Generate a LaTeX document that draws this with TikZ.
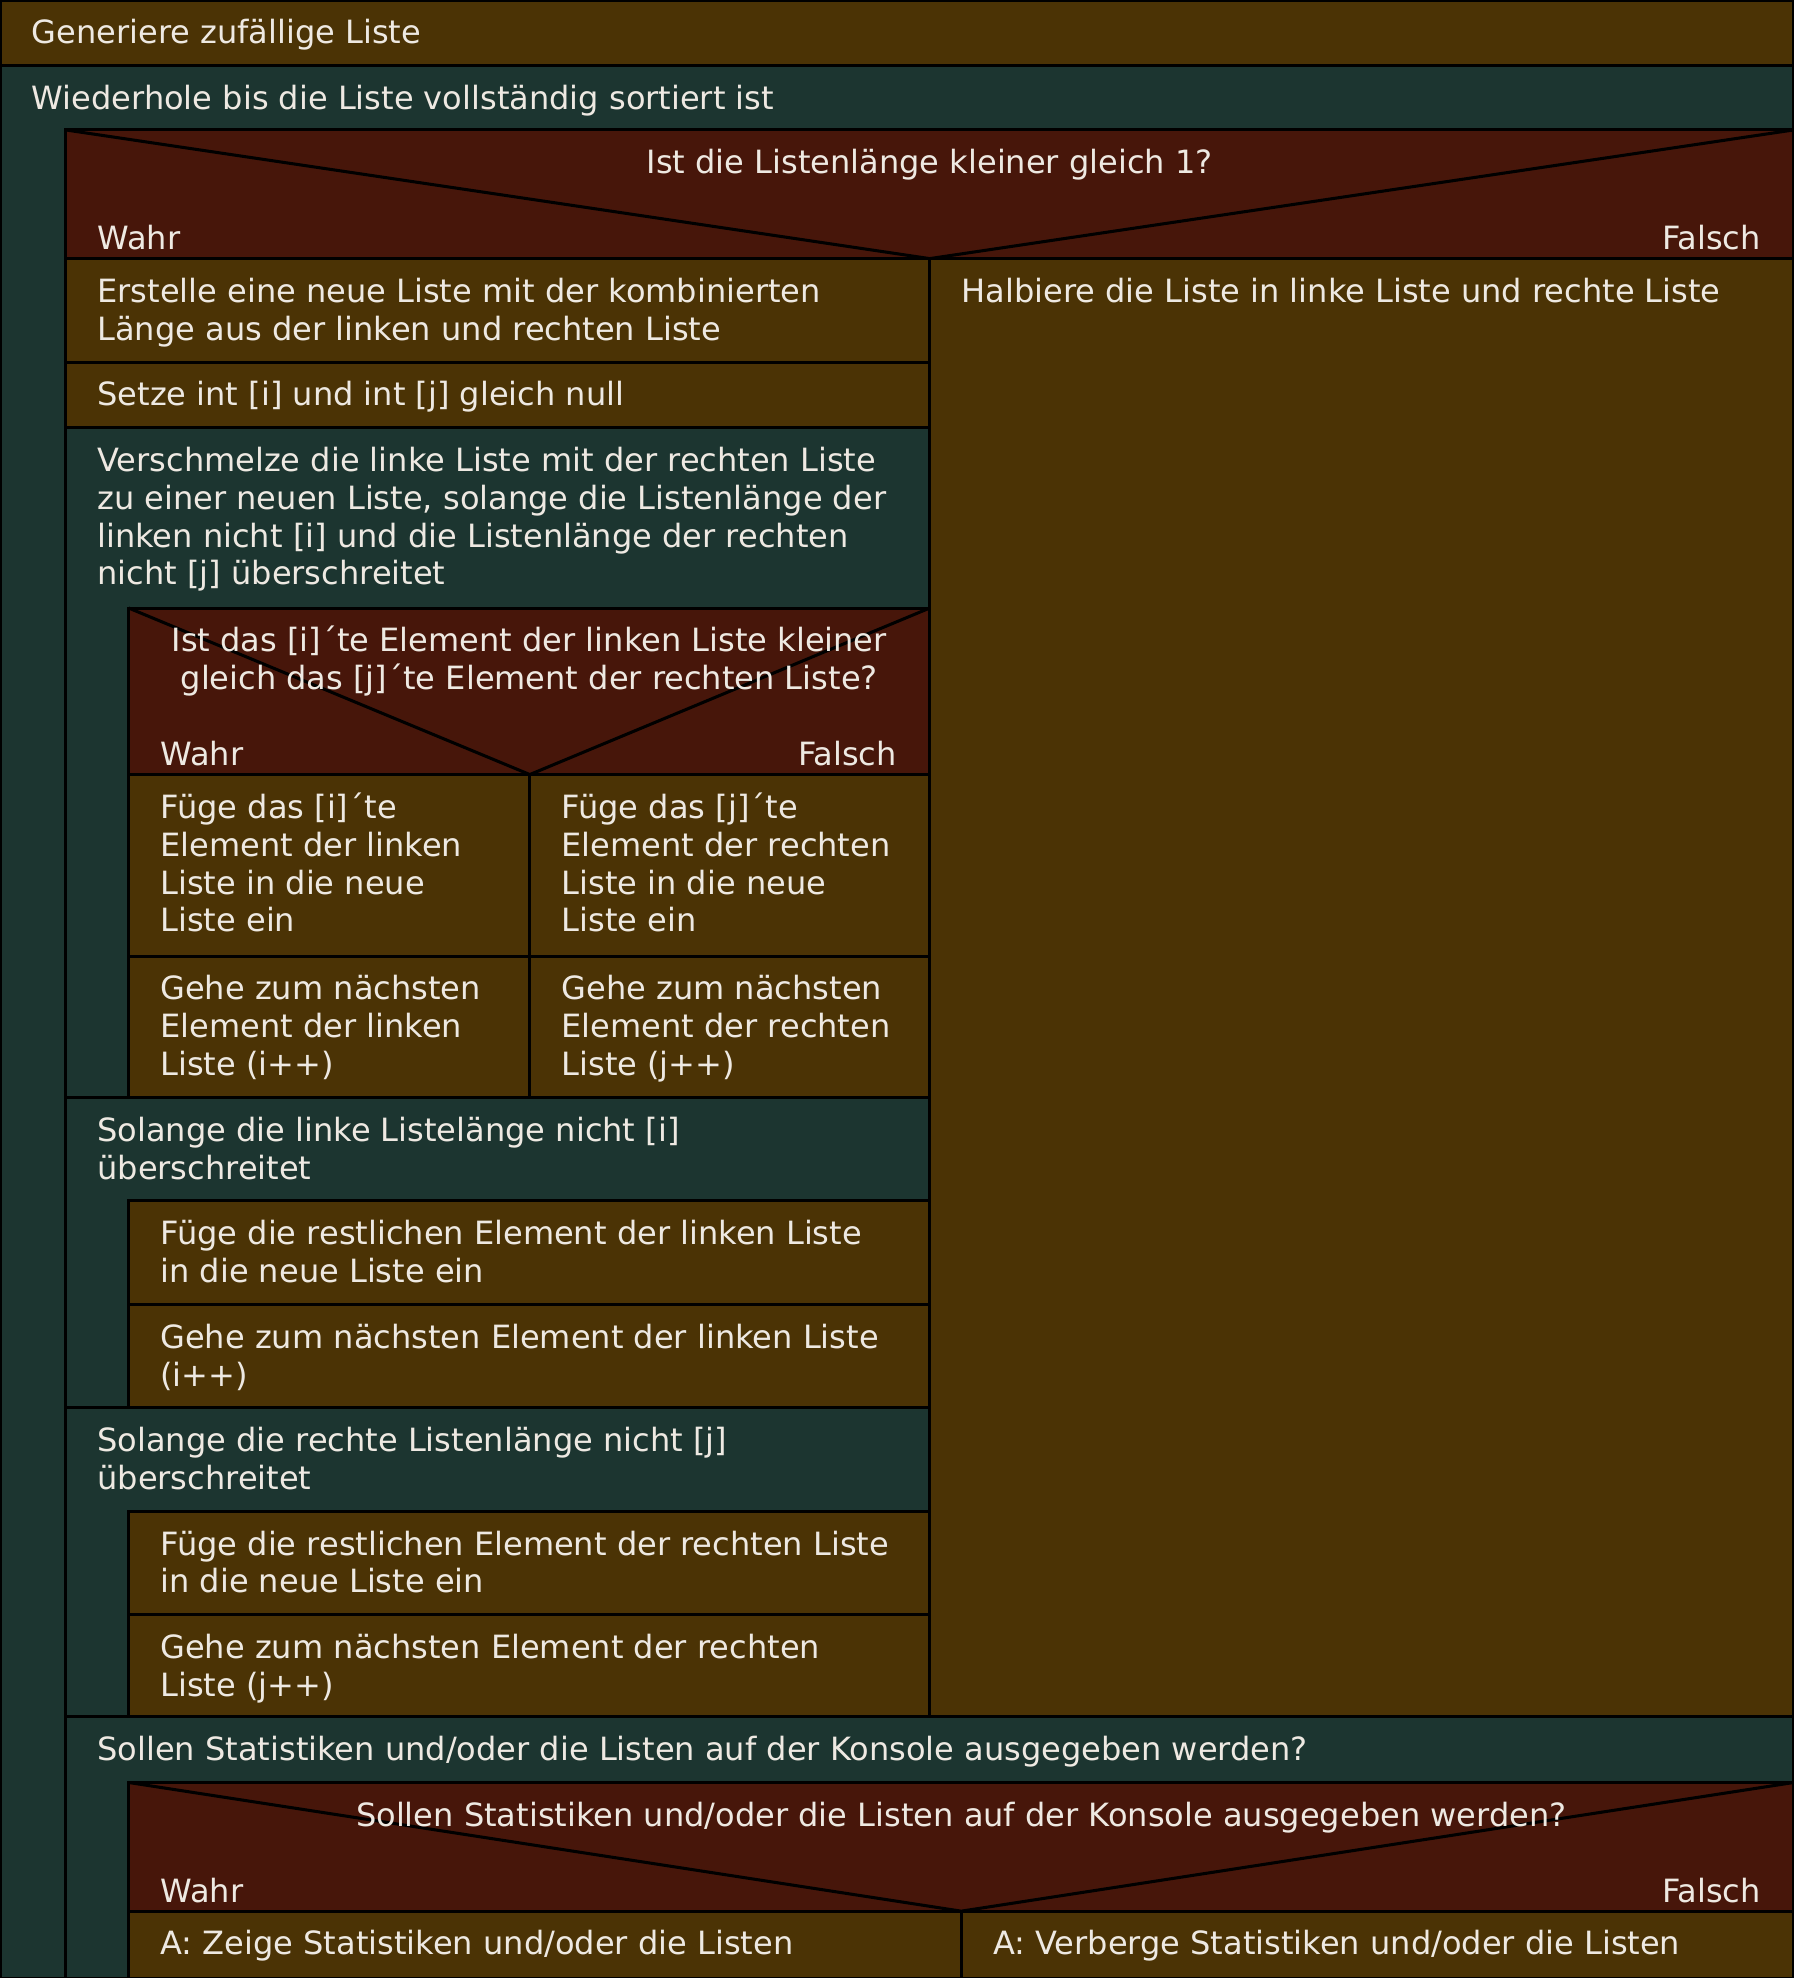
\documentclass[tikz,border=0pt]{standalone}
\usepackage{fontspec}
\setmainfont{DejaVu Sans}
\definecolor{brn}{HTML}{4B3305}
\definecolor{tea}{HTML}{1C3530}
\definecolor{dred}{HTML}{47160A}
\definecolor{txt}{HTML}{EEE9E2}
\begin{document}
\begin{tikzpicture}[x=1pt,y=-1pt,
  blk/.style={fill=brn,draw=black,line width=2.4pt},
  lp/.style={fill=tea,draw=black,line width=2.4pt},
  dec/.style={fill=dred,draw=black,line width=2.4pt},
  dline/.style={draw=black,line width=2.4pt},
  lbl/.style={text=txt,font=\fontsize{25.4}{30}\selectfont,inner sep=0pt,align=left,anchor=north west},
  ctr/.style={lbl,align=center,anchor=north},
  wl/.style={text=txt,font=\fontsize{25.4}{30}\selectfont,inner sep=0pt,anchor=base west},
  fl/.style={text=txt,font=\fontsize{25.4}{30}\selectfont,inner sep=0pt,anchor=base east}]
\useasboundingbox (0,0) rectangle (1422,1568);
% top block
\path[blk] (0,0) rectangle (1422,52);
\node[lbl] (t1) at (25,13.5) {\strut Generiere zufällige Liste};
% main loop
\path[lp] (0,52) rectangle (1422,1568);
\node[lbl] (t2) at (25,65.5) {\strut Wiederhole bis die Liste vollständig sortiert ist};
% decision 1
\path[dec] (52,103) rectangle (1422,205);
\draw[dline] (52,103) -- (737,205) -- (1422,103);
\node[ctr] (d1) at (737,116.5) {\strut Ist die Listenlänge kleiner gleich 1?};
\node[wl] (d1w) at (77,198) {Wahr};
\node[fl] (d1f) at (1396,198) {Falsch};
% left branch
\path[blk] (52,205) rectangle (737,287);
\node[lbl] (b1) at (77,218.5) {\strut Erstelle eine neue Liste mit der kombinierten\\Länge aus der linken und rechten Liste};
\path[blk] (52,287) rectangle (737,339);
\node[lbl] (b2) at (77,300.5) {\strut Setze int [i] und int [j] gleich null};
\path[lp] (52,339) rectangle (737,870);
\node[lbl] (l2) at (77,352.5) {\strut Verschmelze die linke Liste mit der rechten Liste\\zu einer neuen Liste, solange die Listenlänge der\\linken nicht [i] und die Listenlänge der rechten\\nicht [j] überschreitet};
\path[dec] (102,482) rectangle (737,614);
\draw[dline] (102,482) -- (420,614) -- (737,482);
\node[ctr] (d2) at (419.5,495.5) {\strut Ist das [i]´te Element der linken Liste kleiner\\gleich das [j]´te Element der rechten Liste?};
\node[wl] (d2w) at (127,607) {Wahr};
\node[fl] (d2f) at (711,607) {Falsch};
\path[blk] (102,614) rectangle (420,758);
\node[lbl] (b3) at (127,627.5) {\strut Füge das [i]´te\\Element der linken\\Liste in die neue\\Liste ein};
\path[blk] (420,614) rectangle (737,758);
\node[lbl] (b4) at (445,627.5) {\strut Füge das [j]´te\\Element der rechten\\Liste in die neue\\Liste ein};
\path[blk] (102,758) rectangle (420,870);
\node[lbl] (b5) at (127,771.5) {\strut Gehe zum nächsten\\Element der linken\\Liste (i++)};
\path[blk] (420,758) rectangle (737,870);
\node[lbl] (b6) at (445,771.5) {\strut Gehe zum nächsten\\Element der rechten\\Liste (j++)};
\path[lp] (52,870) rectangle (737,1116);
\node[lbl] (l3) at (77,883.5) {\strut Solange die linke Listelänge nicht [i]\\überschreitet};
\path[blk] (102,952) rectangle (737,1034);
\node[lbl] (b7) at (127,965.5) {\strut Füge die restlichen Element der linken Liste\\in die neue Liste ein};
\path[blk] (102,1034) rectangle (737,1116);
\node[lbl] (b8) at (127,1047.5) {\strut Gehe zum nächsten Element der linken Liste\\(i++)};
\path[lp] (52,1116) rectangle (737,1361);
\node[lbl] (l4) at (77,1129.5) {\strut Solange die rechte Listenlänge nicht [j]\\überschreitet};
\path[blk] (102,1198) rectangle (737,1280);
\node[lbl] (b9) at (127,1211.5) {\strut Füge die restlichen Element der rechten Liste\\in die neue Liste ein};
\path[blk] (102,1280) rectangle (737,1361);
\node[lbl] (b10) at (127,1293.5) {\strut Gehe zum nächsten Element der rechten\\Liste (j++)};
% right branch
\path[blk] (737,205) rectangle (1422,1361);
\node[lbl] (r1) at (762,218.5) {\strut Halbiere die Liste in linke Liste und rechte Liste};
% bottom loop
\path[lp] (52,1361) rectangle (1422,1568);
\node[lbl] (l5) at (77,1374.5) {\strut Sollen Statistiken und/oder die Listen auf der Konsole ausgegeben werden?};
\path[dec] (102,1413) rectangle (1422,1515);
\draw[dline] (102,1413) -- (762,1515) -- (1422,1413);
\node[ctr] (d3) at (762,1426.5) {\strut Sollen Statistiken und/oder die Listen auf der Konsole ausgegeben werden?};
\node[wl] (d3w) at (127,1508) {Wahr};
\node[fl] (d3f) at (1396,1508) {Falsch};
\path[blk] (102,1515) rectangle (762,1568);
\node[lbl] (b11) at (127,1528.5) {\strut A: Zeige Statistiken und/oder die Listen};
\path[blk] (762,1515) rectangle (1422,1568);
\node[lbl] (b12) at (787,1528.5) {\strut A: Verberge Statistiken und/oder die Listen};
\end{tikzpicture}
\end{document}
